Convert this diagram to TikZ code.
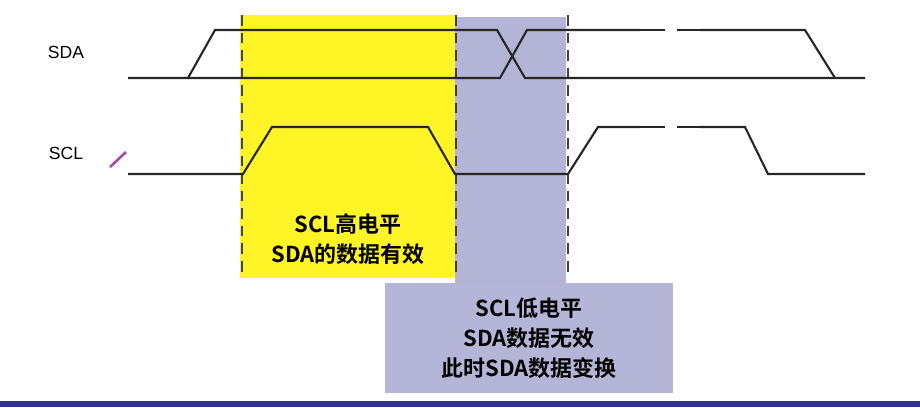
\documentclass[tikz,border=0pt]{standalone}
\usepackage{fontspec}
\setmainfont{Liberation Sans}
\newfontfamily\cjk{Noto Sans CJK SC}[BoldFont={Noto Sans CJK SC Bold}]
\begin{document}
\begin{tikzpicture}[x=0.02cm,y=-0.02cm,
  sig/.style={line width=1.2pt,black!85},
  guide/.style={dashed,line width=0.8pt,black!75,dash pattern=on 6pt off 4pt},
  lbl/.style={font=\fontsize{10}{12}\selectfont},
  boxtxt/.style={font=\fontsize{12.5}{17}\selectfont\bfseries\cjk,align=center}]
\useasboundingbox (0,0) rectangle (920,407);
\fill[yellow!85!white] (240,15) rectangle (455,278);
\fill[blue!35!cyan!15!gray!55!white,fill=blue!30!gray!45] (455,17) rectangle (566,283);
\fill[blue!30!gray!45] (385,283) rectangle (673,393);
\draw[guide] (242,15) -- (242,278);
\draw[guide] (456,15) -- (456,278);
\draw[guide] (568,15) -- (568,278);
\node[lbl] (sda) at (66,52) {SDA};
\node[lbl] (scl) at (66,153) {SCL};
% SDA
\draw[sig] (128,78) -- (188,78) -- (215,30) -- (497,30) -- (525,78) -- (865,78);
\draw[sig] (188,78) -- (500,78) -- (527,30) -- (640,30);
\draw[sig,dashed,dash pattern=on 14pt off 7pt] (640,30) -- (700,30);
\draw[sig] (700,30) -- (805,30) -- (835,78);
% SCL
\draw[sig] (128,174) -- (243,174) -- (272,127) -- (428,127) -- (455,174) -- (568,174) -- (598,127) -- (640,127);
\draw[sig,dashed,dash pattern=on 14pt off 7pt] (640,127) -- (700,127);
\draw[sig] (700,127) -- (745,127) -- (768,174) -- (865,174);
\draw[violet!70,line width=1.5pt] (110,167) -- (126,152);
\node[boxtxt] (t1) at (348,239) {SCL高电平\\SDA的数据有效};
\node[boxtxt] (t2) at (529,338) {SCL低电平\\SDA数据无效\\此时SDA数据变换};
\fill[blue!45!black!80] (0,401) rectangle (920,407);
\end{tikzpicture}
\end{document}
